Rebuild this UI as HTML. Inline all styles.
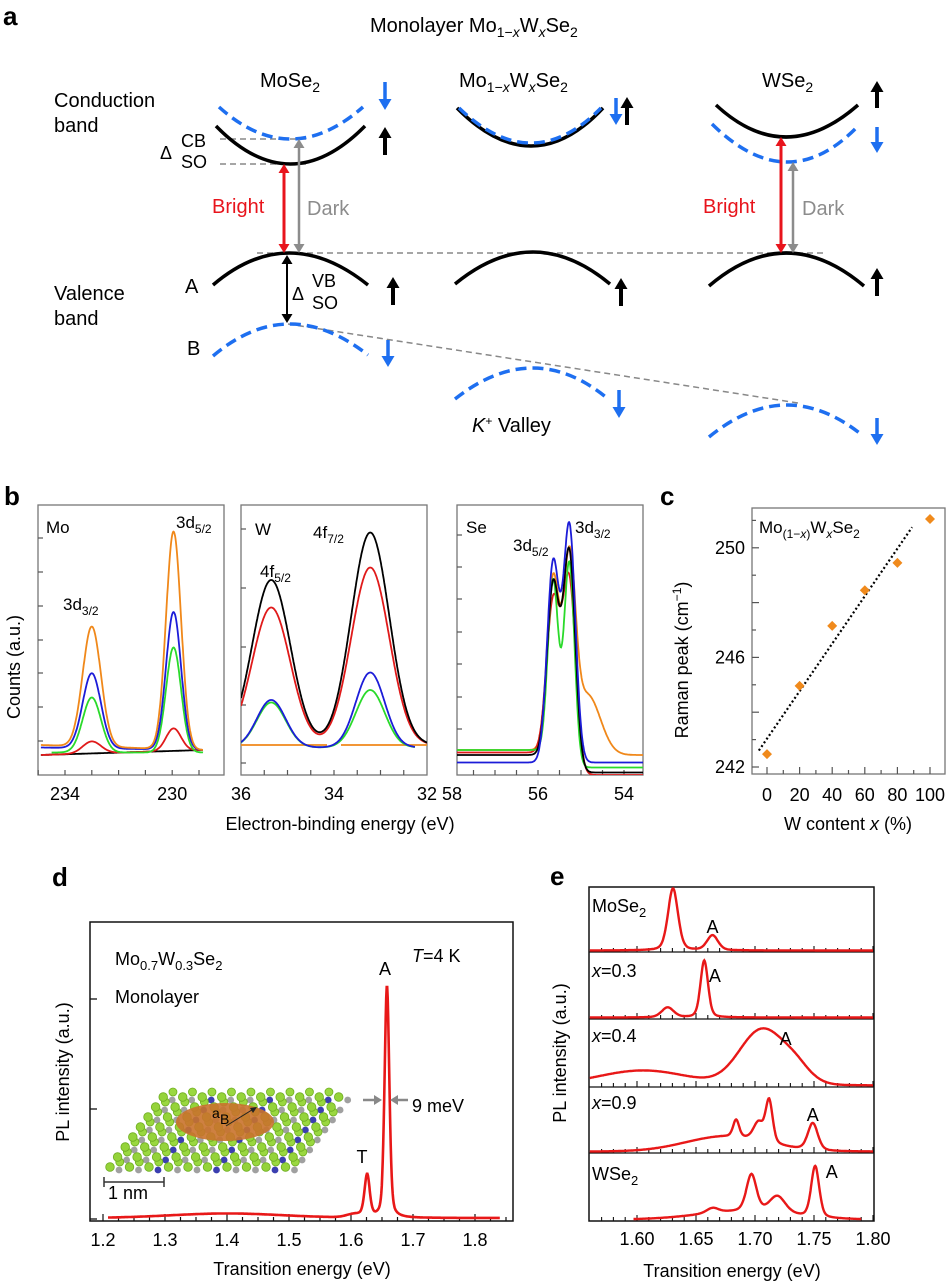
<!DOCTYPE html>
<html><head><meta charset="utf-8"><style>
html,body{margin:0;padding:0;background:#fff;}
svg{display:block;font-family:"Liberation Sans",Arial,sans-serif;}
</style></head><body>
<svg id="fig" width="946" height="1281" viewBox="0 0 946 1281">
<rect x="0" y="0" width="946" height="1281" fill="#fff"/>
<g font-size="20" fill="#000">
<text x="3" y="25" font-size="26" font-weight="bold">a</text>
<text x="370" y="32">Monolayer Mo<tspan dy="5" font-size="14">1−</tspan><tspan font-size="14" font-style="italic">x</tspan><tspan dy="-5">W</tspan><tspan dy="5" font-size="14" font-style="italic">x</tspan><tspan dy="-5">Se</tspan><tspan dy="5" font-size="14">2</tspan></text>
<text x="260" y="87">MoSe<tspan dy="5" font-size="14">2</tspan></text>
<text x="459" y="87">Mo<tspan dy="5" font-size="14">1−</tspan><tspan font-size="14" font-style="italic">x</tspan><tspan dy="-5">W</tspan><tspan dy="5" font-size="14" font-style="italic">x</tspan><tspan dy="-5">Se</tspan><tspan dy="5" font-size="14">2</tspan></text>
<text x="762" y="87">WSe<tspan dy="5" font-size="14">2</tspan></text>
<text x="54" y="107">Conduction</text>
<text x="54" y="132">band</text>
<text x="54" y="300">Valence</text>
<text x="54" y="325">band</text>
<text x="185" y="293">A</text>
<text x="187" y="355">B</text>
<text x="160" y="159" font-size="18">Δ</text>
<text x="181" y="147" font-size="18">CB</text>
<text x="181" y="168" font-size="18">SO</text>
<text x="292" y="300" font-size="18">Δ</text>
<text x="312" y="287" font-size="18">VB</text>
<text x="312" y="309" font-size="18">SO</text>
<text x="212" y="213" fill="#e8141c">Bright</text>
<text x="307" y="215" fill="#8c8c8c">Dark</text>
<text x="703" y="213" fill="#e8141c">Bright</text>
<text x="802" y="215" fill="#8c8c8c">Dark</text>
<text x="472" y="432"><tspan font-style="italic">K</tspan><tspan dy="-7" font-size="12">+</tspan><tspan dy="7"> Valley</tspan></text>
</g>
<g id="pa"></g>

<g font-size="18" fill="#000">
<text x="4" y="505" font-size="26" font-weight="bold">b</text>
<text transform="translate(20,667) rotate(-90)" text-anchor="middle">Counts (a.u.)</text>
<text x="340" y="830" text-anchor="middle">Electron-binding energy (eV)</text>
<text x="46" y="533" font-size="17">Mo</text>
<text x="176" y="528" font-size="17">3d<tspan dy="5" font-size="12">5/2</tspan></text>
<text x="63" y="610" font-size="17">3d<tspan dy="5" font-size="12">3/2</tspan></text>
<text x="255" y="535" font-size="17">W</text>
<text x="260" y="577" font-size="17">4f<tspan dy="5" font-size="12">5/2</tspan></text>
<text x="313" y="538" font-size="17">4f<tspan dy="5" font-size="12">7/2</tspan></text>
<text x="466" y="533" font-size="17">Se</text>
<text x="513" y="551" font-size="17">3d<tspan dy="5" font-size="12">5/2</tspan></text>
<text x="575" y="533" font-size="17">3d<tspan dy="5" font-size="12">3/2</tspan></text>
</g>
<g id="pb"></g>

<g font-size="18" fill="#000">
<text x="660" y="505" font-size="26" font-weight="bold">c</text>
<text transform="translate(688,660) rotate(-90)" text-anchor="middle">Raman peak (cm<tspan dy="-7" font-size="12">−1</tspan><tspan dy="7">)</tspan></text>
<text x="848" y="830" text-anchor="middle">W content <tspan font-style="italic">x</tspan> (%)</text>
<text x="759" y="533" font-size="17">Mo<tspan dy="5" font-size="12">(1−</tspan><tspan font-size="12" font-style="italic">x</tspan><tspan font-size="12">)</tspan><tspan dy="-5">W</tspan><tspan dy="5" font-size="12" font-style="italic">x</tspan><tspan dy="-5">Se</tspan><tspan dy="5" font-size="12">2</tspan></text>
</g>
<g id="pc"></g>

<g font-size="18" fill="#000">
<text x="52" y="886" font-size="26" font-weight="bold">d</text>
<text transform="translate(69,1072) rotate(-90)" text-anchor="middle">PL intensity (a.u.)</text>
<text x="302" y="1275" text-anchor="middle">Transition energy (eV)</text>
<text x="115" y="965">Mo<tspan dy="5" font-size="13">0.7</tspan><tspan dy="-5">W</tspan><tspan dy="5" font-size="13">0.3</tspan><tspan dy="-5">Se</tspan><tspan dy="5" font-size="13">2</tspan></text>
<text x="115" y="1003">Monolayer</text>
<text x="412" y="962"><tspan font-style="italic">T</tspan>=4 K</text>
<text x="385" y="975" text-anchor="middle">A</text>
<text x="362" y="1163" text-anchor="middle">T</text>
<text x="412" y="1112">9 meV</text>
<text x="108" y="1199">1 nm</text>
</g>
<g id="pd"></g>

<g font-size="18" fill="#000">
<text x="550" y="885" font-size="26" font-weight="bold">e</text>
<text transform="translate(566,1053) rotate(-90)" text-anchor="middle">PL intensity (a.u.)</text>
<text x="732" y="1277" text-anchor="middle">Transition energy (eV)</text>
</g>
<g id="pe"></g>
</svg>
<script>
const svg = document.getElementById('fig');
const NSU = svg.namespaceURI;
function add(parent, tag, attrs){ const el = document.createElementNS(NSU, tag); for (const k in attrs) el.setAttribute(k, attrs[k]); parent.appendChild(el); return el; }
function pathD(xs, ys){ let d=''; for(let i=0;i<xs.length;i++){ d += (i?'L':'M') + xs[i].toFixed(1) + ',' + ys[i].toFixed(1); } return d; }
function gauss(x,c,s){ return Math.exp(-(x-c)*(x-c)/(2*s*s)); }

const pa = document.getElementById('pa');
const BLUE='#1e6ff0';
function band(x0,y0,xv,yv,x1,y1,color,dashed,name){
  const cy = 2*yv - (y0+y1)/2;
  const p = add(pa,'path',{d:`M${x0},${y0} Q${xv},${cy} ${x1},${y1}`, fill:'none', stroke:color, 'stroke-width':3.5, 'stroke-dasharray': dashed?'11,6':'none'});
  
  
}
function vArrow(x,y1,y2,color,w,dbl,name){
  const dir = Math.sign(y2-y1);
  const hl = dbl?9:11, hw = dbl?5.5:6.5;
  const g = add(pa,'g',{});
  
  
  add(g,'line',{x1:x,y1:dbl?y1+dir*(hl-1):y1,x2:x,y2:y2-dir*(hl-1),stroke:color,'stroke-width':w});
  add(g,'polygon',{points:`${x-hw},${y2-dir*hl} ${x+hw},${y2-dir*hl} ${x},${y2}`,fill:color});
  if(dbl) add(g,'polygon',{points:`${x-hw},${y1+dir*hl} ${x+hw},${y1+dir*hl} ${x},${y1}`,fill:color});
}
function dline(x1,y1,x2,y2,name){
  const l = add(pa,'line',{x1,y1,x2,y2,stroke:'#888','stroke-width':1.5,'stroke-dasharray':'6,4'});
  
  
}
dline(257,253,827,253,'valence-max-reference-line');
dline(288,324,798,403,'b-band-trend-line');
dline(220,139,310,139,'cb-split-line-upper');
dline(220,164,310,164,'cb-split-line-lower');
band(219,107,290,139,363,107,BLUE,true,'mose2-cb-spin-down');
band(216,126,290,164,365,126,'#000',false,'mose2-cb-spin-up');
band(213,285,288,253,368,285,'#000',false,'mose2-vb-a');
band(213,356,288,324,368,355,BLUE,true,'mose2-vb-b');
band(457,108,532,146,603,108,'#000',false,'alloy-cb-spin-up');
band(459,108,532,143,601,108,BLUE,true,'alloy-cb-spin-down');
band(455,284,533,252,610,284,'#000',false,'alloy-vb-a');
band(455,399,533,368,607,398,BLUE,true,'alloy-vb-b');
band(716,105,785,137,858,105,'#000',false,'wse2-cb-spin-up');
band(712,124,788,162,858,126,BLUE,true,'wse2-cb-spin-down');
band(709,286,786,253,864,286,'#000',false,'wse2-vb-a');
band(709,437,786,405,862,435,BLUE,true,'wse2-vb-b');
vArrow(385,82,110,BLUE,3.5,false,'mose2-cb-down-spin');
vArrow(385,155,127,'#000',4,false,'mose2-cb-up-spin');
vArrow(284,164,253,'#e8141c',3,true,'mose2-bright-transition');
vArrow(299,139,253,'#8c8c8c',2.5,true,'mose2-dark-transition');
vArrow(287,255,323,'#000',2,true,'mose2-vb-splitting');
vArrow(393,305,277,'#000',4,false,'mose2-vb-up-spin');
vArrow(388,340,367,BLUE,3.5,false,'mose2-b-down-spin');
vArrow(616,98,125,BLUE,3.5,false,'alloy-cb-down-spin');
vArrow(627,125,97,'#000',4,false,'alloy-cb-up-spin');
vArrow(621,306,278,'#000',4,false,'alloy-vb-up-spin');
vArrow(619,390,418,BLUE,3.5,false,'alloy-b-down-spin');
vArrow(877,108,81,'#000',4,false,'wse2-cb-up-spin');
vArrow(877,127,153,BLUE,3.5,false,'wse2-cb-down-spin');
vArrow(781,137,253,'#e8141c',3,true,'wse2-bright-transition');
vArrow(793,162,253,'#8c8c8c',2.5,true,'wse2-dark-transition');
vArrow(877,296,268,'#000',4,false,'wse2-vb-up-spin');
vArrow(877,418,445,BLUE,3.5,false,'wse2-b-down-spin');

const bColors = {orange:'#f0881a', blue:'#1c1cd8', green:'#2ada2a', red:'#e01a1a', black:'#000'};
const moPeakEnergies = [233.0, 229.95];
const moSeriesNames = ['black','red','green','blue','orange'];
const moAmp32 = [0, 4.8, 22, 30, 48];
const moAmp52 = [0, 9, 42, 55, 87];
const moBaseLeft = [8, 8, 9, 11, 12];
const moBaseRight = [10, 10, 9, 10, 10];
const wPeakEnergies = [35.35, 33.22];
const wSeriesNames = ['orange','green','blue','red','black'];
const wAmp52 = [0, 18, 19, 55, 66];
const wAmp72 = [0, 23, 30, 71, 85];
const wBase = [12, 11, 11, 12, 12];
const sePeakEnergies = [55.65, 55.27];
const seSeriesNames = ['orange','red','green','black','blue'];
const seAmp52 = [68, 60, 68, 68, 79];
const seAmp32 = [72, 74, 79, 85, 94];
const seBaseLeft = [10, 9, 10, 8, 5];
const seBaseRight = [8, 0, 3, 1, 5];
const seShoulderAmp = [24, 0, 0, 0, 0];

const pb = document.getElementById('pb');
const bY = v => 775 - 2.5*v;
const bTop = 505, bBot = 775;
const subs = [
  {name:'mo', x0:38, x1:224, pxPerEv:26.8, ref:234, refX:65, majors:[234,230], ticks:[235,234,233,232,231,230,229], yt:[538,572,606,640,673,707,741]},
  {name:'w', x0:241, x1:427, pxPerEv:46.5, ref:36, refX:241, majors:[36,34,32], ticks:[35.5,35,34.5,34,33.5,33,32.5], yt:[529,588,647,705,763]},
  {name:'se', x0:457, x1:643, pxPerEv:43, ref:56, refX:538, majors:[58,56,54], ticks:[57.5,57,56.5,56,55.5,55,54.5,54], yt:[535,567,599,632,664,697,729]}
];
subs.forEach(s => { s.X = e => s.refX + (s.ref - e)*s.pxPerEv; });
subs.forEach(s => {
  const clip = add(pb,'clipPath',{id:'clip-'+s.name});
  add(clip,'rect',{x:s.x0,y:bTop,width:s.x1-s.x0,height:bBot-bTop});
  const fr = add(pb,'rect',{x:s.x0,y:bTop,width:s.x1-s.x0,height:bBot-bTop,fill:'none',stroke:'#777','stroke-width':1.3});
  
  
  s.ticks.forEach(t => {
    const tk = add(pb,'line',{x1:s.X(t),x2:s.X(t),y1:bBot,y2:bBot-5,stroke:'#555','stroke-width':1.2});
    
    
  });
  s.yt.forEach(y => {
    const tk = add(pb,'line',{x1:s.x0,x2:s.x0+5,y1:y,y2:y,stroke:'#555','stroke-width':1.2});
    
    
  });
  s.majors.forEach(m => {
    const lb = add(pb,'text',{x:s.X(m),y:800,'text-anchor':'middle','font-size':18});
    lb.textContent = String(m);
    
    
  });
});
function drawSeries(s, name, color, eStart, eEnd, fn, gap){
  const xs=[], ys=[]; const segs=[];
  const n=400;
  for(let i=0;i<=n;i++){
    const e = eStart + (eEnd-eStart)*i/n;
    if(gap && e<gap[0] && e>gap[1]){ if(xs.length){segs.push([xs.slice(),ys.slice()]); xs.length=0; ys.length=0;} continue; }
    xs.push(s.X(e)); ys.push(bY(fn(e)));
  }
  if(xs.length) segs.push([xs,ys]);
  let d=''; segs.forEach(sg => d += pathD(sg[0],sg[1]));
  const p = add(pb,'path',{d, fill:'none', stroke:color, 'stroke-width':1.8, 'clip-path':`url(#clip-${s.name})`});
  
  
}
moSeriesNames.forEach((nm,i) => {
  const e0 = nm==='green'?234.5:234.9, e1 = 228.85;
  drawSeries(subs[0], nm, bColors[nm], e0, e1, e => {
    const t = (234.9-e)/(234.9-228.85);
    return moBaseLeft[i] + (moBaseRight[i]-moBaseLeft[i])*t + moAmp32[i]*gauss(e,moPeakEnergies[0],0.34) + moAmp52[i]*gauss(e,moPeakEnergies[1],0.28);
  });
});
wSeriesNames.forEach((nm,i) => {
  const sig = (nm==='black'||nm==='red')?0.41:0.31;
  const e1 = (nm==='green'||nm==='blue')?32.26:32.0;
  drawSeries(subs[1], nm, bColors[nm], 36.0, e1, e => wBase[i] + wAmp52[i]*gauss(e,wPeakEnergies[0],sig) + wAmp72[i]*gauss(e,wPeakEnergies[1],sig), nm==='orange'?[34.15,33.85]:null);
});
const seSig = {orange:0.14, red:0.15, green:0.12, black:0.14, blue:0.14};
seSeriesNames.forEach((nm,i) => {
  drawSeries(subs[2], nm, bColors[nm], 58.0, 53.55, e => {
    const step = 1/(1+Math.exp((e-55.3)/0.08));
    const base = seBaseLeft[i] + (seBaseRight[i]-seBaseLeft[i])*step;
    return base + seAmp52[i]*gauss(e,sePeakEnergies[0],seSig[nm]) + seAmp32[i]*gauss(e,sePeakEnergies[1],seSig[nm]) + seShoulderAmp[i]*gauss(e,54.85,0.3);
  });
});

const ramanX = [0, 20, 40, 60, 80, 100];
const ramanPeak = [242.47, 244.96, 247.15, 248.45, 249.45, 251.05];
const ramanFitX = [-5, 89];
const ramanFitY = [242.6, 250.75];
const cYTicks = [242, 246, 250];
const cXTicks = [0, 20, 40, 60, 80, 100];
const pc = document.getElementById('pc');
const cX = x => 767 + x*1.63;
const cY = v => 767 - (v-242)*27.4;
const cf = add(pc,'rect',{x:752,y:508,width:193,height:266,fill:'none',stroke:'#777','stroke-width':1.3});


for(let v=242; v<=251; v++){
  const tk = add(pc,'line',{x1:752,x2:752+(v%2===0?7:4),y1:cY(v),y2:cY(v),stroke:'#555','stroke-width':1.2});
  
  
}
for(let x=0; x<=100; x+=10){
  const tk = add(pc,'line',{x1:cX(x),x2:cX(x),y1:774,y2:774-(x%20===0?7:4),stroke:'#555','stroke-width':1.2});
  
  
}
cYTicks.forEach(v => {
  const t = add(pc,'text',{x:745,y:cY(v)+6,'text-anchor':'end','font-size':18});
  t.textContent = String(v);
  
  
});
cXTicks.forEach(v => {
  const t = add(pc,'text',{x:cX(v),y:801,'text-anchor':'middle','font-size':18});
  t.textContent = String(v);
  
  
});
const fit = add(pc,'line',{x1:cX(ramanFitX[0]),y1:cY(ramanFitY[0]),x2:cX(ramanFitX[1]),y2:cY(ramanFitY[1]),stroke:'#000','stroke-width':2.2,'stroke-dasharray':'2,2.5'});


ramanX.forEach((x,i) => {
  const px=cX(x), py=cY(ramanPeak[i]);
  const m = add(pc,'polygon',{points:`${px},${py-5} ${px+5},${py} ${px},${py+5} ${px-5},${py}`,fill:'#f08a1c'});
  
  
});

const dPeakEnergy = [1.626, 1.658];
const dPeakAmp = [42, 232];
const dPeakFwhm = [0.010, 0.009];
const dBgEnergy = [1.40, 1.605];
const dBgAmp = [4.5, 3];
const dBgWidth = [0.09, 0.012];
const dXTicks = [1.2, 1.3, 1.4, 1.5, 1.6, 1.7, 1.8];
const pd = document.getElementById('pd');
const dX = e => 103 + (e-1.2)*620;
const dY = v => 1218 - v;
const dfr = add(pd,'rect',{x:90,y:922,width:423,height:299,fill:'none',stroke:'#111','stroke-width':1.5});


[999,1109,1219].forEach(y => {
  const tk = add(pd,'line',{x1:90,x2:97,y1:y,y2:y,stroke:'#111','stroke-width':1.3});
  
  
});
for(let k=0;k<=26;k++){
  const e = 1.2 + k*0.025;
  const major = k%4===0;
  const tk = add(pd,'line',{x1:dX(e),x2:dX(e),y1:1221,y2:1221-(major?7:4),stroke:'#111','stroke-width':1.2});
  
  
}
dXTicks.forEach(v => {
  const t = add(pd,'text',{x:dX(v),y:1246,'text-anchor':'middle','font-size':18});
  t.textContent = v.toFixed(1);
  
  
});
function pv(e,c,amp,fwhm,eta){ const s=fwhm/2.355, h=fwhm/2; return amp*((1-eta)*gauss(e,c,s) + eta/(1+((e-c)/h)**2)); }
{
  const lat = add(pd,'g',{});
  
  
  const rows=8;
  for(let j=0;j<rows;j++){
    const y = 1167 - j*10;
    const xl = 110 + j*7.6, xr = 300 + j*6.7;
    let n=0;
    for(let x=xl+4; x<=xr; x+=19.5){ n++; add(lat,'circle',{cx:x+5,cy:y+3,r:3.4,fill:(n%3===0)?'#3b3fb0':'#a0a0a0'}); }
  }
  for(let j=0;j<rows;j++){
    const y = 1167 - j*10;
    const xl = 110 + j*7.6, xr = 300 + j*6.7;
    for(let x=xl; x<=xr; x+=19.5){ add(lat,'circle',{cx:x,cy:y,r:4.3,fill:'#95d33a',stroke:'#6fae22','stroke-width':0.8}); }
    for(let x=xl+9.75; x<=xr; x+=19.5){ add(lat,'circle',{cx:x,cy:y-5,r:4.0,fill:'#9ad840',stroke:'#6fae22','stroke-width':0.8}); }
  }
  const el = add(pd,'ellipse',{cx:225,cy:1122,rx:49,ry:19,fill:'#c9722c','fill-opacity':0.9});
  
  
  const ar = add(pd,'line',{x1:226,y1:1126,x2:255,y2:1108,stroke:'#222','stroke-width':1});
  
  
  const ah = add(pd,'polygon',{points:'257,1107 250,1108 253,1113',fill:'#222'});
  
  
  const ab = add(pd,'text',{x:212,y:1118,'font-size':14});
  ab.textContent = 'a';
  
  
  const abs = add(pd,'text',{x:220,y:1124,'font-size':14});
  abs.textContent = 'B';
  
  
  const sb = add(pd,'path',{d:'M104,1177 V1187 M104,1182 H164 M164,1177 V1187',stroke:'#333','stroke-width':1.5,fill:'none'});
  
  
}
{
  const xs=[], ys=[];
  for(let e=1.208; e<=1.84; e+=0.0008){
    let v = 0;
    dPeakEnergy.forEach((c,i) => v += pv(e,c,dPeakAmp[i],dPeakFwhm[i],0.35));
    dBgEnergy.forEach((c,i) => v += dBgAmp[i]*gauss(e,c,dBgWidth[i]));
    xs.push(dX(e)); ys.push(dY(v));
  }
  const p = add(pd,'path',{d:pathD(xs,ys),fill:'none',stroke:'#e81818','stroke-width':2.6});
  
  
}
[[363,382],[408,390]].forEach((a,i) => {
  const g = add(pd,'g',{});
  
  
  const dir = Math.sign(a[1]-a[0]);
  add(g,'line',{x1:a[0],y1:1100,x2:a[1]-dir*7,y2:1100,stroke:'#888','stroke-width':2.5});
  add(g,'polygon',{points:`${a[1]-dir*8},1095 ${a[1]-dir*8},1105 ${a[1]},1100`,fill:'#888'});
});

const eLabels = ['MoSe', 'x=0.3', 'x=0.4', 'x=0.9', 'WSe'];
const eMoSe2Centers = [1.6305, 1.664];
const eMoSe2Amps = [62, 15];
const eMoSe2Fwhm = [0.010, 0.011];
const eX03Centers = [1.626, 1.657];
const eX03Amps = [10, 57];
const eX03Fwhm = [0.012, 0.0075];
const eX04Centers = [1.605, 1.706, 1.735];
const eX04Amps = [15, 55, 14];
const eX04Fwhm = [0.09, 0.045, 0.03];
const eX09Centers = [1.675, 1.684, 1.703, 1.712, 1.749];
const eX09Amps = [15, 17, 18, 42, 27];
const eX09Fwhm = [0.08, 0.006, 0.010, 0.007, 0.010];
const eWSe2Centers = [1.69, 1.664, 1.697, 1.719, 1.751];
const eWSe2Amps = [8, 5, 37, 17, 51];
const eWSe2Fwhm = [0.09, 0.012, 0.010, 0.016, 0.008];
const eALabelE = [1.664, 1.666, 1.726, 1.749, 1.760];
const eXTicks = [1.60, 1.65, 1.70, 1.75, 1.80];
const pe = document.getElementById('pe');
const eX = e => 637 + (e-1.60)*1180;
const eBounds = [887, 952, 1019, 1087, 1153, 1221];
const eRanges = [[1.56,1.80],[1.56,1.80],[1.56,1.80],[1.56,1.80],[1.597,1.79]];
const eComps = [[eMoSe2Centers,eMoSe2Amps,eMoSe2Fwhm],[eX03Centers,eX03Amps,eX03Fwhm],[eX04Centers,eX04Amps,eX04Fwhm],[eX09Centers,eX09Amps,eX09Fwhm],[eWSe2Centers,eWSe2Amps,eWSe2Fwhm]];
const efr = add(pe,'rect',{x:589,y:887,width:285,height:334,fill:'none',stroke:'#111','stroke-width':1.5});


for(let k=1;k<=5;k++){
  const yb = eBounds[k];
  if(k<5){
    const dv = add(pe,'line',{x1:589,x2:874,y1:yb,y2:yb,stroke:'#111','stroke-width':1.3});
    
    
  }
  for(let m=0;m<=23;m++){
    const e = 1.57 + m*0.01;
    const major = Math.abs((e*100)%5) < 0.01 || Math.abs((e*100)%5-5) < 0.01;
    const tk = add(pe,'line',{x1:eX(e),x2:eX(e),y1:yb,y2:yb-(major?6:4),stroke:'#111','stroke-width':1.1});
    
    
  }
}
eComps.forEach((cmp,k) => {
  const base = eBounds[k+1]-1.5;
  const xs=[], ys=[];
  const [a,b] = eRanges[k];
  for(let e=a; e<=b; e+=0.0005){
    let v=0;
    cmp[0].forEach((c,i) => { const broad = cmp[2][i]>0.03; v += pv(e,c,cmp[1][i],cmp[2][i],broad?0:0.3); });
    xs.push(eX(e)); ys.push(base - v);
  }
  const p = add(pe,'path',{d:pathD(xs,ys),fill:'none',stroke:'#e81818','stroke-width':2.4});
  
  
});
const eLabelY = [912, 977, 1042, 1109, 1180];
const eALabelY = [933, 982, 1045, 1121, 1178];
eLabels.forEach((lab,k) => {
  const t = add(pe,'text',{x:592,y:eLabelY[k],'font-size':18});
  
  
  if(lab.startsWith('x')){
    const i = add(t,'tspan',{'font-style':'italic'}); i.textContent='x';
    const r = add(t,'tspan',{}); r.textContent = lab.slice(1);
  } else {
    const r = add(t,'tspan',{}); r.textContent = lab;
    const s2 = add(t,'tspan',{dy:5,'font-size':13}); s2.textContent='2';
  }
  const a = add(pe,'text',{x:eX(eALabelE[k]),y:eALabelY[k],'text-anchor':k===4?'start':'middle','font-size':18});
  a.textContent = 'A';
  
  
});
eXTicks.forEach(v => {
  const t = add(pe,'text',{x:eX(v),y:1245,'text-anchor':'middle','font-size':18});
  t.textContent = v.toFixed(2);
  
  
});
</script>
</body></html>
